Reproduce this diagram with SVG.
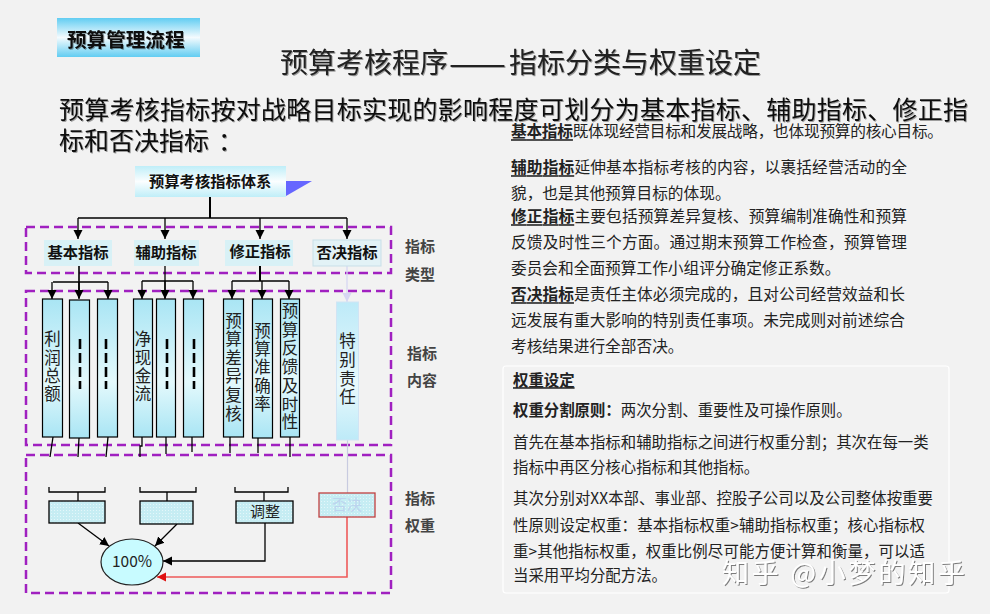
<svg xmlns="http://www.w3.org/2000/svg" width="990" height="614" viewBox="0 0 990 614">
<style>
text{font-family:"Noto Sans CJK SC","Noto Sans",sans-serif;fill:#111;dominant-baseline:central;transform:translateY(-1.8px)}
.b{font-weight:700}
.u{font-weight:700;text-decoration:underline}
.big{font-size:25px;filter:url(#sh)}
.r{font-size:15.7px;fill:#222}
.w{font-size:15.4px;fill:#222}
.side{font-size:15px;font-weight:700;fill:#444}
.lab{font-size:15.300px;font-weight:700;text-anchor:middle;fill:#111}
.v{font-size:16.5px;text-anchor:middle;fill:#222}
.zone{fill:none;stroke:#a020c0;stroke-width:2.5;stroke-dasharray:9 5}
.col{fill:url(#colG);stroke:#000;stroke-width:1.2}
.dash{stroke:#000;stroke-width:2.6;stroke-dasharray:10 4;fill:none}
.l{fill:none;stroke:#000;stroke-width:1.3}
.a{marker-end:url(#ah)}
.hb{fill:url(#hatch);stroke:#000;stroke-width:1.3}
</style>
<defs>
<linearGradient id="hdr" x1="0" y1="0" x2="0" y2="1"><stop offset="0" stop-color="#62cdf2"/><stop offset=".5" stop-color="#f4fbfe"/><stop offset="1" stop-color="#62cdf2"/></linearGradient>
<linearGradient id="top" x1="0" y1="0" x2="0" y2="1"><stop offset="0" stop-color="#bfeef8"/><stop offset=".5" stop-color="#fbfeff"/><stop offset="1" stop-color="#bfeef8"/></linearGradient>
<linearGradient id="colG" x1="0" y1="0" x2="0" y2="1"><stop offset="0" stop-color="#a9e5f4"/><stop offset=".6" stop-color="#e4f9fc"/><stop offset="1" stop-color="#a9e5f4"/></linearGradient>
<linearGradient id="colP" x1="0" y1="0" x2="0" y2="1"><stop offset="0" stop-color="#bdeaf8"/><stop offset=".6" stop-color="#e8f9fc"/><stop offset="1" stop-color="#bdeaf8"/></linearGradient>
<pattern id="hatch" width="3" height="3" patternUnits="userSpaceOnUse"><rect width="3" height="3" fill="#c6edf3"/><rect width="1" height="1" fill="#e4f7fa"/></pattern>
<marker id="ah" markerUnits="userSpaceOnUse" markerWidth="10" markerHeight="10" refX="9" refY="5" orient="auto"><path d="M0 0.5L9 5L0 9.5Z" fill="#000"/></marker>
<marker id="ahp" markerUnits="userSpaceOnUse" markerWidth="10" markerHeight="10" refX="9" refY="5" orient="auto"><path d="M0 0.5L9 5L0 9.5Z" fill="#d6d6f2"/></marker>
<marker id="ahr" markerUnits="userSpaceOnUse" markerWidth="10" markerHeight="10" refX="9" refY="5" orient="auto"><path d="M0 0.5L9 5L0 9.5Z" fill="#e01010"/></marker>
<filter id="sh" x="-5%" y="-20%" width="110%" height="150%"><feDropShadow dx="1" dy="1" stdDeviation=".7" flood-color="#000" flood-opacity=".35"/></filter>
<filter id="wm" x="-5%" y="-20%" width="110%" height="150%"><feDropShadow dx="1" dy="1" stdDeviation=".6" flood-color="#555" flood-opacity=".75"/></filter>
</defs>
<rect width="990" height="614" fill="#f2f2f2"/>

<g id="header">
<rect x="57" y="18" width="143" height="39" fill="url(#hdr)"/>
<text x="67" y="40" class="b" style="font-size:19.6px;filter:url(#sh)">预算管理流程</text>
</g>
<g id="title"><text x="280" y="63" style="font-size:28px;fill:#222;filter:url(#sh)">预算考核程序<tspan x="449" style="font-size:34px">——</tspan><tspan x="509">指标分类与权重设定</tspan></text></g>
<g id="intro">
<text x="59" y="110" class="big" textLength="909">预算考核指标按对战略目标实现的影响程度可划分为基本指标、辅助指标、修正指</text>
<text x="59" y="141" class="big">标和否决指标<tspan dx="9">：</tspan></text>
</g>

<g id="zones">
<rect class="zone" x="26" y="227" width="365" height="46"/>
<rect class="zone" x="26" y="291" width="365" height="154"/>
<rect class="zone" x="26" y="455" width="365" height="138"/>
</g>

<g id="connectors">
<path class="l" d="M210 197V218" style="stroke-width:2"/>
<path class="l" d="M78 218H347"/>
<path class="l a" d="M78 218V239"/><path class="l a" d="M165 218V239"/><path class="l a" d="M260 218V239"/><path class="l a" d="M347 218V239"/>
<path class="l" d="M79 265V298" style="stroke-width:1.6"/><path class="l" d="M53 282H108"/>
<path class="l a" d="M52 282V299"/><path class="l a" d="M79 282V299"/><path class="l a" d="M108 282V299"/>
<path class="l" d="M165 265V298"/><path class="l" d="M142 281H193"/>
<path class="l a" d="M142 281V299"/><path class="l a" d="M165 281V299"/><path class="l a" d="M193 281V299"/>
<path class="l" d="M260 264V281" style="stroke-width:2"/><path class="l" d="M232 281H289"/>
<path class="l a" d="M232 281V299"/><path class="l a" d="M262 281V299"/><path class="l a" d="M289 281V299"/>
<path d="M347 266V302" fill="none" stroke="#d6d6f2" stroke-width="1.3" marker-end="url(#ahp)"/>
<path class="l" d="M53 437L50 457"/><path class="l" d="M79 438L78 457"/><path class="l" d="M108 437L106 457"/>
<path class="l" d="M142 437V446H140V457"/><path class="l" d="M166 437V454"/><path class="l" d="M192 437V452"/>
<path class="l" d="M230 437V453"/><path class="l" d="M258 438V453"/><path class="l" d="M290 437V457"/>
<path d="M347.5 440V493" fill="none" stroke="#c8cbe0" stroke-width="1.2"/>
<path class="l" d="M49 487V492H105V487M78 492V501"/>
<path class="l" d="M140 487V492H196V487M167 492V501"/>
<path class="l" d="M235 487V492H288V487M264 492V501"/>
<path class="l a" d="M78 523L109 546"/><path class="l a" d="M177 524L155 546"/>
<path class="l a" d="M265 523V561H163"/>
<path d="M347 517V577H157" fill="none" stroke="#ee5a5a" stroke-width="1.6" marker-end="url(#ahr)"/>
</g>

<g id="node-root"><rect x="135" y="166" width="151" height="31" fill="url(#top)"/><text x="149" y="182" class="b" style="font-size:15.300px">预算考核指标体系</text><path d="M286 181H312L286 196Z" fill="#6666ff"/></g>
<g id="type-basic"><rect x="44" y="240" width="68" height="26" fill="#d8f1f6"/><text x="78" y="253" class="lab">基本指标</text></g>
<g id="type-aux"><rect x="134" y="240" width="65" height="26" fill="#d8f1f6"/><text x="166" y="253" class="lab">辅助指标</text></g>
<g id="type-fix"><rect x="225" y="240" width="68" height="26" fill="#d8f1f6"/><text x="260" y="252" class="lab">修正指标</text></g>
<g id="type-veto"><rect x="313" y="240" width="68" height="26" fill="#e2f2f6" stroke="#c8dfe8"/><text x="347" y="253" class="lab">否决指标</text></g>

<g id="col-1"><rect class="col" x="42.500" y="299" width="20" height="138"/><text class="v"><tspan x="52.500" y="340">利</tspan><tspan x="52.500" y="359">润</tspan><tspan x="52.500" y="377">总</tspan><tspan x="52.500" y="395">额</tspan></text></g>
<g id="col-2"><rect class="col" x="69.500" y="300" width="20" height="138"/><path class="dash" d="M80 339V389"/></g>
<g id="col-3"><rect class="col" x="97.500" y="299" width="20" height="138"/><path class="dash" d="M106 339V389"/></g>
<g id="col-4"><rect class="col" x="133.500" y="299" width="19" height="138"/><text class="v"><tspan x="143" y="340">净</tspan><tspan x="143" y="359">现</tspan><tspan x="143" y="377">金</tspan><tspan x="143" y="395">流</tspan></text></g>
<g id="col-5"><rect class="col" x="156.500" y="299" width="19" height="138"/><path class="dash" d="M167 339V389"/></g>
<g id="col-6"><rect class="col" x="183.500" y="299" width="20" height="138"/><path class="dash" d="M194 339V389"/></g>
<g id="col-7"><rect class="col" x="223.500" y="299" width="20" height="138"/><text class="v"><tspan x="233.500" y="322">预</tspan><tspan x="233.500" y="340">算</tspan><tspan x="233.500" y="359">差</tspan><tspan x="233.500" y="377">异</tspan><tspan x="233.500" y="396">复</tspan><tspan x="233.500" y="415">核</tspan></text></g>
<g id="col-8"><rect class="col" x="252.500" y="299" width="20" height="139"/><text class="v"><tspan x="262.500" y="332">预</tspan><tspan x="262.500" y="350">算</tspan><tspan x="262.500" y="368">准</tspan><tspan x="262.500" y="387">确</tspan><tspan x="262.500" y="405">率</tspan></text></g>
<g id="col-9"><rect class="col" x="280.500" y="299" width="19" height="138"/><text class="v"><tspan x="290" y="312">预</tspan><tspan x="290" y="331">算</tspan><tspan x="290" y="349">反</tspan><tspan x="290" y="368">馈</tspan><tspan x="290" y="387">及</tspan><tspan x="290" y="406">时</tspan><tspan x="290" y="423">性</tspan></text></g>
<g id="col-10"><rect x="336.500" y="302" width="22" height="138" fill="url(#colP)" stroke="#d0e4f4"/><text class="v"><tspan x="347.500" y="342">特</tspan><tspan x="347.500" y="361">别</tspan><tspan x="347.500" y="380">责</tspan><tspan x="347.500" y="398">任</tspan></text></g>

<g id="w-1"><rect class="hb" x="49" y="501" width="56" height="22"/></g>
<g id="w-2"><rect class="hb" x="140" y="501" width="53" height="23"/></g>
<g id="w-3"><rect class="hb" x="236" y="501" width="57" height="22"/><text x="265" y="512" style="font-size:15px;text-anchor:middle;fill:#222">调整</text></g>
<g id="w-4"><rect x="319" y="493" width="56" height="24" fill="url(#hatch)" stroke="#c04040" stroke-width="1.3"/><text x="347" y="505" style="font-size:15px;text-anchor:middle;fill:#bcd4ee">否决</text></g>
<g id="total"><ellipse cx="132" cy="562" rx="31" ry="23" fill="#c8fbff" stroke="#222" stroke-width="1.2"/><text x="132" y="562" style="font-size:15.5px;text-anchor:middle;fill:#222">100%</text></g>

<g id="side-labels">
<text x="405" y="247" class="side">指标</text><text x="405" y="275" class="side">类型</text>
<text x="407" y="354" class="side">指标</text><text x="407" y="381" class="side">内容</text>
<text x="405" y="499" class="side">指标</text><text x="405" y="526" class="side">权重</text>
</g>

<g id="definitions">
<text x="511" y="132" class="r" textLength="432"><tspan class="u">基本指标</tspan>既体现经营目标和发展战略，也体现预算的核心目标。</text>
<text x="511" y="168" class="r" textLength="396"><tspan class="u">辅助指标</tspan>延伸基本指标考核的内容，以裹括经营活动的全</text>
<text x="511" y="194" class="r">貌，也是其他预算目标的体现。</text>
<text x="511" y="217" class="r" textLength="396"><tspan class="u">修正指标</tspan>主要包括预算差异复核、预算编制准确性和预算</text>
<text x="511" y="243" class="r" textLength="396">反馈及时性三个方面。通过期末预算工作检查，预算管理</text>
<text x="511" y="269" class="r">委员会和全面预算工作小组评分确定修正系数。</text>
<text x="511" y="295" class="r" textLength="394"><tspan class="u">否决指标</tspan>是责任主体必须完成的，且对公司经营效益和长</text>
<text x="511" y="321" class="r" textLength="394">远发展有重大影响的特别责任事项。未完成则对前述综合</text>
<text x="511" y="347" class="r">考核结果进行全部否决。</text>
</g>

<g id="weights">
<rect x="503" y="366" width="446" height="227" rx="3" fill="none" stroke="#fff" stroke-width="1.2"/>
<text x="513" y="381" class="w u">权重设定</text>
<text x="513" y="411" class="w"><tspan class="b">权重分割原则：</tspan>两次分割、重要性及可操作原则。</text>
<text x="513" y="443" class="w">首先在基本指标和辅助指标之间进行权重分割；其次在每一类</text>
<text x="513" y="468" class="w">指标中再区分核心指标和其他指标。</text>
<text x="513" y="499" class="w" textLength="420">其次分别对XX本部、事业部、控股子公司以及公司整体按重要</text>
<text x="513" y="526" class="w" textLength="412">性原则设定权重：基本指标权重&gt;辅助指标权重；核心指标权</text>
<text x="513" y="552" class="w" textLength="412">重&gt;其他指标权重，权重比例尽可能方便计算和衡量，可以适</text>
<text x="513" y="576" class="w">当采用平均分配方法。</text>
</g>

<g id="watermark"><text x="722" y="573" textLength="243" style="font-size:27px;fill:#fff;filter:url(#wm)">知乎 @小梦的知乎</text></g>
</svg>
